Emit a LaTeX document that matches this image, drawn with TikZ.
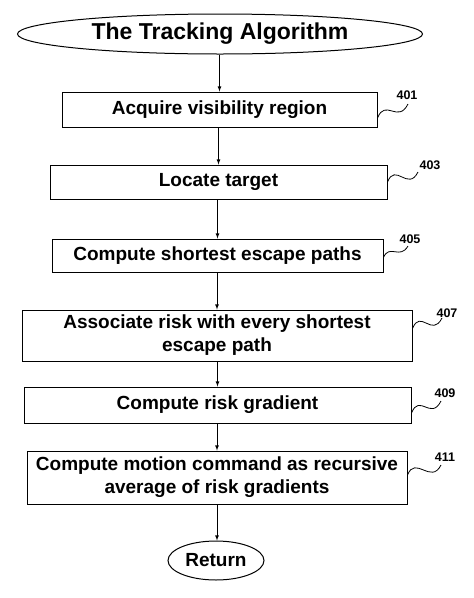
\documentclass[tikz,border=0pt]{standalone}
\usepackage{fontspec}
\setmainfont{Liberation Sans}
\usetikzlibrary{shapes.geometric}

\tikzset{
  stepbox/.style={draw, line width=1pt, inner sep=1pt, align=center,
    font=\fontsize{19}{23}\selectfont\bfseries},
  term/.style={draw, ellipse, line width=1pt, inner sep=0pt},
  flow/.style={line width=0.8pt, -latex},
  ref/.style={inner sep=0pt, font=\fontsize{12.5}{14}\selectfont\bfseries},
  lead/.style={line width=0.8pt}
}

\begin{document}
\begin{tikzpicture}[x=1pt, y=-1pt]
\useasboundingbox (0,0) rectangle (474,598);
\node[term, minimum width=405pt, minimum height=40pt,
      font=\fontsize{23}{26}\selectfont\bfseries] (title) at (220,34) {The Tracking Algorithm};
\node[stepbox, minimum width=315pt, minimum height=35pt] (acq) at (219.5,109.5) {Acquire visibility region};
\node[stepbox, minimum width=337pt, minimum height=34pt] (loc) at (218.5,182) {Locate target};
\node[stepbox, minimum width=331pt, minimum height=33pt] (esc) at (217.5,255.5) {Compute shortest escape paths};
\node[stepbox, minimum width=390pt, minimum height=51pt] (risk) at (217,335.5) {Associate risk with every shortest\\escape path};
\node[stepbox, minimum width=387pt, minimum height=36pt] (grad) at (217.5,405) {Compute risk gradient};
\node[stepbox, minimum width=380pt, minimum height=53pt] (motion) at (217,477.5) {Compute motion command as recursive\\average of risk gradients};
\node[term, minimum width=96pt, minimum height=39pt,
      font=\fontsize{19}{23}\selectfont\bfseries] (ret) at (216,560.5) {Return};

% flow
\draw[flow] (title.south -| acq.north) -- (acq.north);
\draw[flow] (acq.south -| loc.north) -- (loc.north);
\draw[flow] (loc.south -| esc.north) -- (esc.north);
\draw[flow] (esc.south -| risk.north) -- (risk.north);
\draw[flow] (risk.south -| grad.north) -- (grad.north);
\draw[flow] (grad.south -| motion.north) -- (motion.north);
\draw[flow] (motion.south) -- (motion.south |- ret.north);

% reference numerals
\node[ref] (n401) at (407,95) {401};
\node[ref] (n403) at (430,165) {403};
\node[ref] (n405) at (410,239) {405};
\node[ref] (n407) at (447,313) {407};
\node[ref] (n409) at (445,393) {409};
\node[ref] (n411) at (445,457) {411};
\coordinate (e401) at (408,104);
\coordinate (e403) at (418,172);
\coordinate (e405) at (408,246);
\coordinate (e407) at (442,318);
\coordinate (e409) at (441,401);
\coordinate (e411) at (441,465);
\draw[lead] ([yshift=-8.5pt]acq.east) .. controls +(8,-20) and +(-10,20) .. (e401);
\draw[lead] (loc.east) .. controls +(8,-20) and +(-10,20) .. (e403);
\draw[lead] ([yshift=-2pt]esc.east) .. controls +(6,-14) and +(-8,14) .. (e405);
\draw[lead] ([yshift=7pt]risk.east) .. controls +(8,-20) and +(-10,20) .. (e407);
\draw[lead] ([yshift=-8pt]grad.east) .. controls +(8,-20) and +(-10,20) .. (e409);
\draw[lead] ([yshift=2.5pt]motion.east) .. controls +(8,-20) and +(-10,20) .. (e411);
\end{tikzpicture}
\end{document}
